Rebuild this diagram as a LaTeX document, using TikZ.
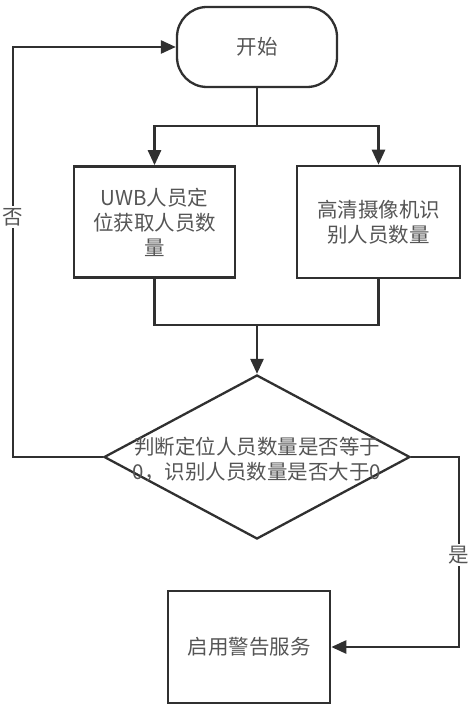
\documentclass[tikz,border=0pt]{standalone}
\usepackage{fontspec}
\setmainfont{Noto Sans CJK SC}
\usetikzlibrary{arrows.meta,shapes.geometric}
\definecolor{linec}{HTML}{303030}
\definecolor{textc}{HTML}{555555}
\begin{document}
\begin{tikzpicture}[x=1pt,y=1pt,
  every node/.style={text=textc,font=\fontsize{20.5}{25}\selectfont,align=center,inner sep=0pt},
  box/.style={draw=linec,line width=2.6pt,rectangle,minimum width=161,minimum height=111},
  startbox/.style={draw=linec,line width=2.3pt,rectangle,rounded corners=30pt,minimum width=160,minimum height=80},
  decbox/.style={draw=linec,line width=2.3pt,diamond,minimum width=306,minimum height=164},
  conn/.style={draw=linec,line width=2.6pt},
  arr/.style={conn,-{Triangle[length=15pt,width=13pt]}},
  lbl/.style={fill=white,inner sep=2pt}]
\useasboundingbox (0,0) rectangle (474,-711);
\node[startbox] (start) at (257,-47) {开始};
\node[box] (b1) at (154.5,-222) {UWB人员定\\位获取人员数\\量};
\node[box,minimum width=163,minimum height=112] (b2) at (378.5,-222) {高清摄像机识\\别人员数量};
\node[decbox] (dec) at (257,-457) {};
\node (dectext) at (257,-459) {\fontsize{20.5}{28}\selectfont 判断定位人员数量是否等于\\0，识别人员数量是否大于0};
\node[box,minimum width=162,minimum height=112] (b3) at (249,-647) {启用警告服务};
\coordinate (split) at (257,-126);
\coordinate (merge) at (257,-325);
\coordinate (lft) at (13,-457);
\coordinate (rgt) at (459,-457);
\draw[conn] (start.south) -- (split);
\draw[arr] (split) -| (b1.north);
\draw[arr] (split) -| (b2.north);
\draw[conn] (b1.south) |- (merge);
\draw[conn] (b2.south) |- (merge);
\draw[arr] (merge) -- (dec.north);
\draw[arr] (dec.west) -- (lft) |- (start.west);
\draw[arr] (dec.east) -- (rgt) |- (b3.east);
\node[lbl] (no) at (13,-217) {否};
\node[lbl] (yes) at (459,-555) {是};
\end{tikzpicture}
\end{document}
